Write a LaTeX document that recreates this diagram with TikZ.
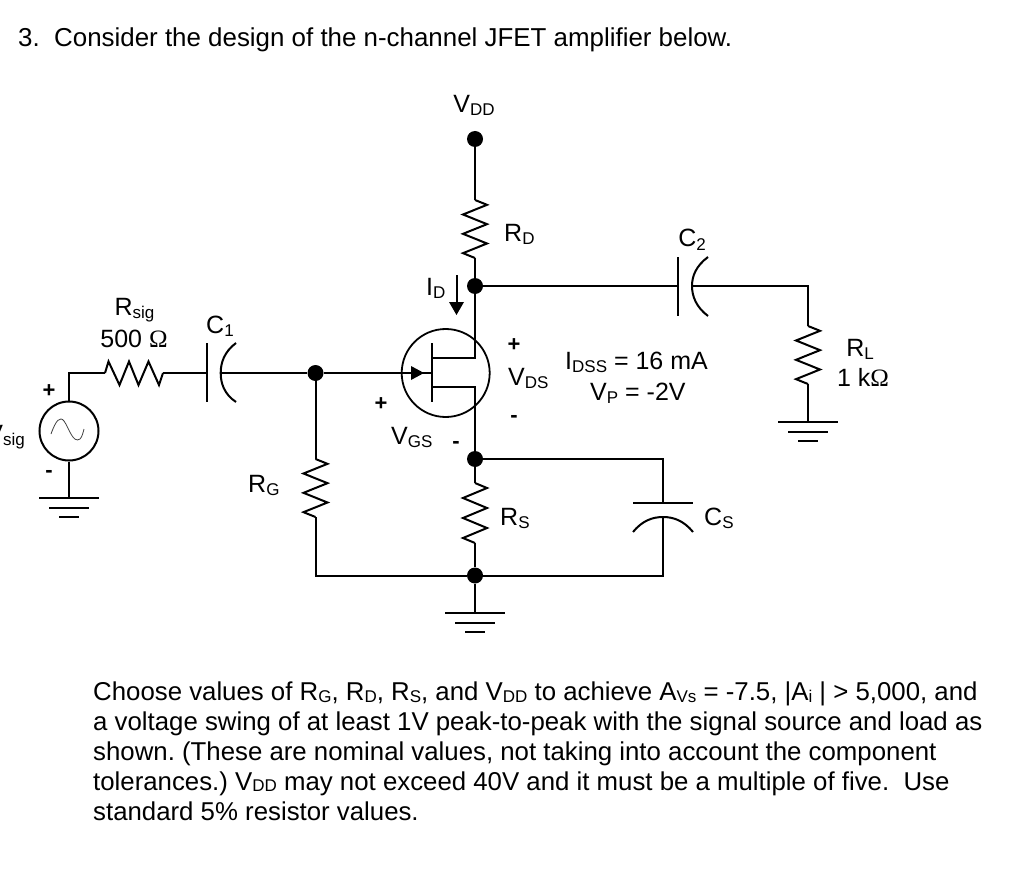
\documentclass[tikz,border=0pt]{standalone}
\usepackage{fontspec}
\setmainfont{Liberation Sans}
\newfontfamily\omfont{Liberation Serif}
\newcommand{\lo}[1]{\raisebox{-0.13em}{\fontsize{17}{17}\selectfont #1}}
\newcommand{\lolg}[1]{\raisebox{-0.06em}{\fontsize{17}{17}\selectfont #1}}
\newcommand{\Om}{{\omfont Ω}}
\usetikzlibrary{calc}
\tikzset{
  wire/.style={line width=2pt,black,line join=miter},
  thin wire/.style={line width=1.6pt,black},
  dot/.style={circle,fill=black,inner sep=0pt,minimum size=16pt},
  lab/.style={font=\fontsize{25}{29}\selectfont,inner sep=0pt,align=center},
  pm/.style={font=\bfseries\fontsize{22}{22}\selectfont,inner sep=0pt},
  body/.style={font=\frenchspacing\fontsize{25.8}{29.8}\selectfont,inner sep=0pt,align=left,anchor=north west},
}
% vertical resistor: name, x, top y, bottom y (units of px)
\newcommand{\vres}[4]{%
  \coordinate (#1t) at (#2,#3);
  \coordinate (#1b) at (#2,#4);
  \draw[wire] (#1t)
    -- ($(#1t)!1/12!(#1b)+(12,0)$) -- ($(#1t)!3/12!(#1b)+(-12,0)$)
    -- ($(#1t)!5/12!(#1b)+(12,0)$) -- ($(#1t)!7/12!(#1b)+(-12,0)$)
    -- ($(#1t)!9/12!(#1b)+(12,0)$) -- ($(#1t)!11/12!(#1b)+(-12,0)$)
    -- (#1b);}
\newcommand{\gnd}[3]{%
  \coordinate (#1) at (#2,#3);
  \draw[wire] ($(#1)+(-30,0)$) -- ($(#1)+(30,0)$);
  \draw[wire] ($(#1)+(-20,9.5)$) -- ($(#1)+(20,9.5)$);
  \draw[wire] ($(#1)+(-10,19)$) -- ($(#1)+(10,19)$);}
\begin{document}
\begin{tikzpicture}[x=1pt,y=-1pt]
\useasboundingbox (0,0) rectangle (1024,877);
% nodes
\node[dot] (vdd) at (475,139) {};
\node[dot] (dn) at (475,286) {};
\node[dot] (sn) at (475,459) {};
\node[dot] (gn) at (475,575.5) {};
\node[dot] (in) at (315.5,373) {};
\node[draw,circle,line width=1.8pt,minimum size=88pt,inner sep=0pt] (fet) at (445.7,373) {};
\node[draw,circle,line width=2pt,minimum size=59pt,inner sep=0pt] (src) at (69,431) {};
% resistors
\vres{rd}{475}{200}{258}
\vres{rg}{315.5}{459}{517}
\vres{rs}{475}{483}{543}
\vres{rl}{808}{326}{384}
% Rsig horizontal
\coordinate (rsl) at (105,373);
\coordinate (rsr) at (163,373);
\draw[wire] (rsl) -- (108.5,361.5) -- (119.5,385) -- (129,361.5) -- (138.5,385) -- (148.5,361.5) -- (159,385) -- (rsr);
% grounds
\gnd{g1}{69}{498}
\gnd{g2}{475}{613}
\gnd{g3}{808}{422}
% capacitors
\coordinate (c1a) at (207,373); \coordinate (c1b) at (220.7,373);
\draw[wire] (207,343) -- (207,402);
\draw[wire] (236,343) .. controls (224,352) and (220.7,363) .. (c1b) .. controls (220.7,383) and (224,394) .. (236,402);
\coordinate (c2a) at (678,286); \coordinate (c2b) at (692,286);
\draw[wire] (678,257) -- (678,316);
\draw[wire] (708,257) .. controls (696,266) and (692,276) .. (c2b) .. controls (692,296) and (696,307) .. (708,316);
\coordinate (csa) at (663,503); \coordinate (csb) at (663,517);
\draw[wire] (633,503) -- (693,503);
\draw[wire] (633,532) .. controls (642,521) and (652,517) .. (csb) .. controls (674,517) and (684,521) .. (693,532);
% wires
\coordinate (fd) at (475,358); \coordinate (fs) at (475,387);
\coordinate (gate) at (432,373);
\coordinate (rsc) at (69,373);
\coordinate (rc) at (808,286);
\coordinate (csT) at (663,459);
\coordinate (csB) at (663,575.5);
\coordinate (rgB) at (315.5,575.5);
\draw[wire] (vdd) -- (rdt);
\draw[wire] (rdb) -- (dn);
\draw[wire] (dn) -- (fd) -- (432,358);
\draw[wire] (432,387) -- (fs) -- (sn);
\draw[wire] (432,343) -- (432,402);
\draw[thin wire] (in) -- (gate);
\draw[fill=black,draw=none] (424,373) -- (411,366) -- (411,380) -- cycle;
\draw[wire] (sn) -- (rst);
\draw[wire] (rsb) -- (gn);
\draw[wire] (gn) -- (g2);
\draw[wire] (sn) -- (csT) -- (csa);
\draw[wire] (csb) -- (csB) -- (gn);
\draw[wire] (in) -- (rgt);
\draw[wire] (rgb) -- (rgB) -- (gn);
\draw[wire] (c1b) -- (in);
\draw[wire] (rsr) -- (c1a);
\draw[wire] (src) -- (rsc) -- (rsl);
\draw[wire] (src) -- (g1);
\draw[wire] (dn) -- (c2a);
\draw[wire] (c2b) -- (rc) -- (rlt);
\draw[wire] (rlb) -- (g3);
% sine in source
\draw[line width=0.8pt,black!75] (51,434) .. controls (56,420) and (60,416) .. (64,421) .. controls (69,428) and (73,444) .. (80,439) .. controls (82,437) and (83,433) .. (84,429);
% ID arrow
\coordinate (ida) at (456.5,275); \coordinate (idb) at (456.5,303);
\draw[wire] (ida) -- (idb);
\draw[fill=black,draw=none] (449,302) -- (464,302) -- (456.5,315) -- cycle;
% labels
\node[body,anchor=base west,font=\fontsize{25.9}{30}\selectfont] (title) at (18,47) {3.\ \ Consider the design of the n-channel JFET amplifier below.};
\node[lab,anchor=base] (lvdd) at (474,112.5) {V\lo{DD}};
\node[lab,anchor=base west] (lrd) at (504,241) {R\lo{D}};
\node[lab,anchor=base] (lc2) at (692,247) {C\lo{2}};
\node[lab,anchor=base west] (lid) at (426,295) {I\lo{D}};
\node[lab,anchor=base] (lrsig) at (134.5,315) {R\lo{sig}};
\node[lab,anchor=base] (l500) at (134,347) {500 \Om};
\node[lab,anchor=base] (lc1) at (220,333) {C\lo{1}};
\node[pm] (p1) at (49,391) {+};
\node[pm] (m1) at (49,474) {-};
\node[lab,anchor=base east] (lvsig) at (25,442) {V\lo{sig}};
\node[lab,anchor=base west] (lrg) at (248,492.5) {R\lo{G}};
\node[pm] (p2) at (381,404) {+};
\node[lab,anchor=base west] (lvgs) at (391,444) {V\lo{GS}};
\node[pm] (m2) at (456,445) {-};
\node[pm] (p3) at (514,345) {+};
\node[lab,anchor=base west] (lvds) at (508,385) {V\lo{DS}};
\node[pm] (m3) at (514,419) {-};
\node[lab,anchor=base west] (lidss) at (565,369) {I\lo{DSS} = 16 mA};
\node[lab,anchor=base west] (lvp) at (590,400) {V\lo{P} = -2V};
\node[lab,anchor=base west] (lrs) at (500,525) {R\lo{S}};
\node[lab,anchor=base west] (lcs) at (704,525) {C\lo{S}};
\node[lab,anchor=base] (lrl) at (860,356) {R\lo{L}};
\node[lab,anchor=base] (l1k) at (863,386) {1 k\Om};
\node[body] (para) at (93,682) {Choose values of R\lolg{G}, R\lolg{D}, R\lolg{S}, and V\lolg{DD} to achieve A\lolg{Vs} = -7.5, |A\lolg{i} | > 5,000, and\\
a voltage swing of at least 1V peak-to-peak with the signal source and load as\\
shown. (These are nominal values, not taking into account the component\\
tolerances.) V\lolg{DD} may not exceed 40V and it must be a multiple of five.\ \ Use\\
standard 5\% resistor values.};
\end{tikzpicture}
\end{document}
